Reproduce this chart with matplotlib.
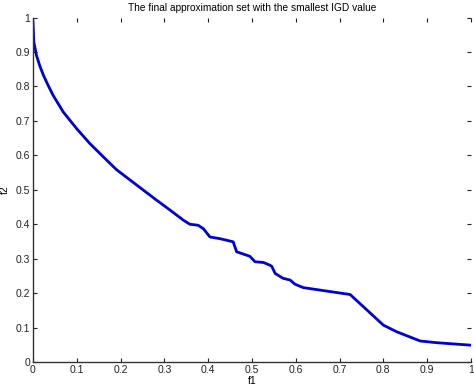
import numpy as np
import matplotlib
matplotlib.use('Agg')
import matplotlib.pyplot as plt

plt.rcParams['font.family'] = ['Liberation Sans', 'DejaVu Sans']

# approximation set
f1 = [0.0, 0.002, 0.008, 0.016, 0.024, 0.035, 0.046, 0.069, 0.100, 0.130,
      0.161, 0.191, 0.221, 0.252, 0.282, 0.313, 0.343, 0.358, 0.377, 0.389,
      0.404, 0.427, 0.457, 0.465, 0.488, 0.495, 0.507, 0.526, 0.541, 0.545,
      0.553, 0.571, 0.587, 0.598, 0.617, 0.670, 0.724, 0.800, 0.830, 0.884,
      0.922, 0.998]
f2 = [0.988, 0.928, 0.890, 0.858, 0.832, 0.802, 0.774, 0.726, 0.677, 0.634,
      0.595, 0.558, 0.529, 0.499, 0.470, 0.441, 0.412, 0.400, 0.397, 0.387,
      0.363, 0.358, 0.349, 0.320, 0.310, 0.307, 0.291, 0.289, 0.281, 0.278,
      0.257, 0.243, 0.238, 0.226, 0.216, 0.206, 0.196, 0.107, 0.088, 0.061,
      0.056, 0.049]

ticks = np.arange(0, 1.01, 0.1)
tick_labels = ['0', '0.1', '0.2', '0.3', '0.4', '0.5', '0.6', '0.7', '0.8', '0.9', '1']

fig = plt.figure(figsize=(4.74, 3.87), dpi=100)
ax = fig.add_axes([0.0696, 0.0646, 0.924, 0.89])
ax.plot(f1, f2, color='#0000cc', lw=2.0, solid_joinstyle='round')

ax.set_xlim(0, 1)
ax.set_ylim(0, 1)
ax.set_xticks(ticks)
ax.set_xticklabels(tick_labels)
ax.set_yticks(ticks)
ax.set_yticklabels(tick_labels)
ax.tick_params(direction='in', length=3, width=0.8, labelsize=7.5, pad=2,
               top=True, right=True, colors='#222222')
for s in ['top', 'right']:
    ax.spines[s].set_visible(False)
for s in ['left', 'bottom']:
    ax.spines[s].set_color('#333333')
    ax.spines[s].set_linewidth(1.0)

ax.set_title('The final approximation set with the smallest IGD value', fontsize=7.3, pad=5)
ax.set_xlabel('f1', fontsize=7.5, labelpad=1)
ax.set_ylabel('f2', fontsize=7.5, labelpad=4)

plt.savefig('out.png', dpi=100, facecolor='white')
